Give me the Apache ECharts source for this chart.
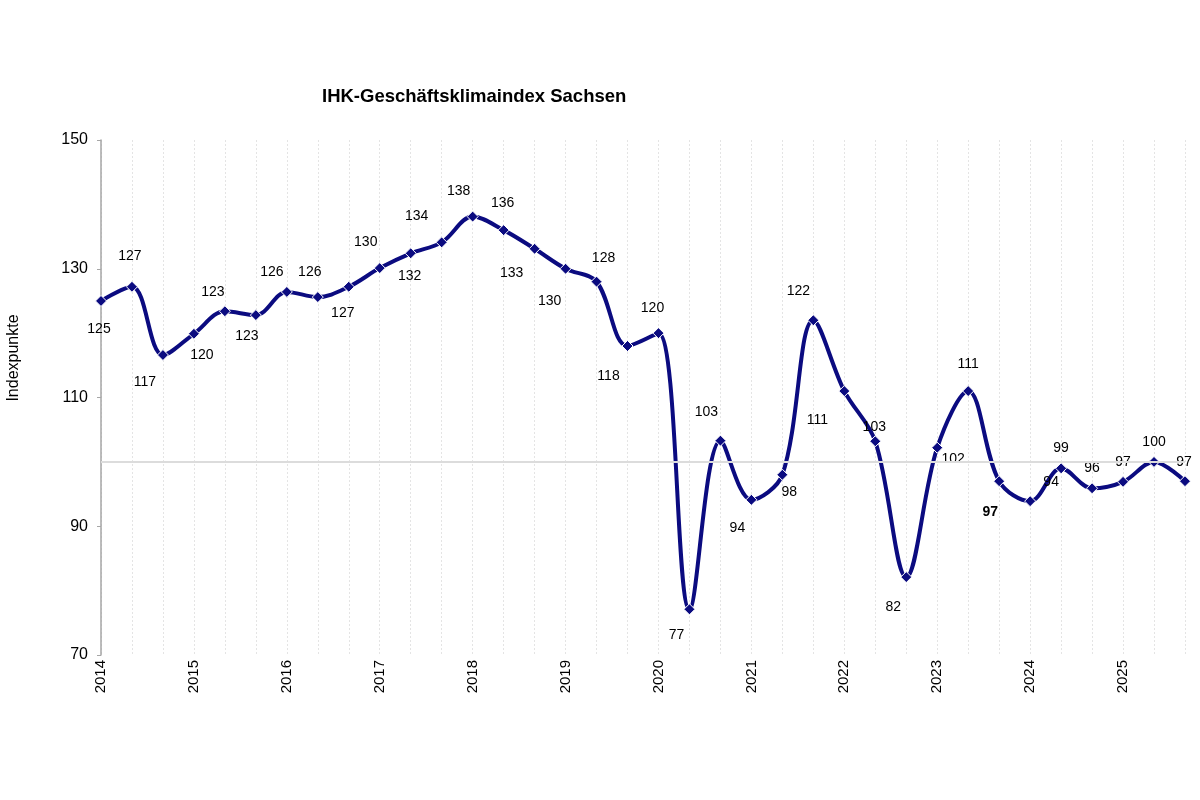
<!DOCTYPE html>
<html>
<head>
<meta charset="utf-8">
<script src="https://cdn.jsdelivr.net/npm/echarts@6/dist/echarts.min.js"></script>
<style>html,body{margin:0;padding:0;background:#fff}#c{width:1200px;height:800px}</style>
</head>
<body>
<div id="c"></div>
<script>
// ---- data ----
const years = ['2014','2015','2016','2017','2018','2019','2020','2021','2022','2023','2024','2025'];
const waves = ['I','II','III'];
const categories = [];
years.forEach(y => waves.forEach(w => categories.push(y + ' ' + w)));
const values = [
  125, 127.2, 116.6, 119.9, 123.4, 122.8, 126.4, 125.6, 127.2, 130.1, 132.4, 134.1,
  138.1, 136, 133.1, 130, 128, 118, 120, 77.1, 103.3, 94.1, 98, 122,
  111, 103.2, 82.1, 102.2, 111, 97, 93.9, 99, 95.9, 96.9, 100, 97
];
const referenceValue = 100;
const titleText = 'IHK-Geschäftsklimaindex Sachsen';
const yName = 'Indexpunkte';

// ---- label placement (styling) ----
const labelOffsets = [
  [-2,28],[-2,-31],[-18,27],[8,21],[-12,-19],[-9,21],[-15,-20],[-8,-25],[-6,26],[-14,-26],[-1,23],[-25,-26],
  [-14,-25],[-1,-27],[-23,24],[-16,32],[7,-23],[-19,30],[-6,-25],[-13,26],[-14,-28],[-14,28],[7,17],[-15,-29],
  [-27,29],[-1,-14],[-13,30],[16,11],[0,-27],[-9,31],[21,-19],[0,-20],[0,-20],[0,-20],[0,-20],[-1,-19]
];
const boldLabelIndex = [29];
const FONT = 'Liberation Sans, Arial, sans-serif';

const seriesData = values.map((v, i) => ({
  value: v,
  label: {
    offset: labelOffsets[i],
    fontWeight: boldLabelIndex.includes(i) ? 'bold' : 'normal'
  }
}));

const chart = echarts.init(document.getElementById('c'), null, {renderer: 'canvas'});
chart.setOption({
  animation: false,
  backgroundColor: '#ffffff',
  title: {
    text: titleText,
    left: 317,
    top: 82,
    textStyle: {fontFamily: FONT, fontSize: 18.5, fontWeight: 'bold', color: '#000'}
  },
  graphic: [{
    type: 'text',
    x: 14,
    y: 358,
    rotation: Math.PI / 2,
    style: {text: yName, font: '16px ' + FONT, fill: '#000', align: 'center', verticalAlign: 'middle'}
  }],
  grid: {left: 101, right: 15, top: 140, bottom: 145, containLabel: false},
  xAxis: {
    type: 'category',
    data: categories,
    boundaryGap: false,
    axisLine: {show: false},
    axisTick: {show: false},
    axisLabel: {
      interval: 0,
      rotate: 90,
      margin: 5,
      fontFamily: FONT,
      fontSize: 15,
      color: '#000',
      formatter: (val, idx) => idx % 3 === 0 ? val.split(' ')[0] : ''
    },
    splitLine: {show: true, interval: 0, lineStyle: {color: '#e4e4e4', width: 1, type: [2, 2]}}
  },
  yAxis: {
    type: 'value',
    min: 70,
    max: 150,
    interval: 20,
    axisLine: {show: true, lineStyle: {color: '#a6a6a6', width: 1.5}},
    axisTick: {show: true, length: 4, lineStyle: {color: '#a6a6a6'}},
    axisLabel: {margin: 13, fontFamily: FONT, fontSize: 16, color: '#000'},
    splitLine: {show: false}
  },
  series: [{
    type: 'line',
    data: seriesData,
    smooth: 0.35,
    symbol: 'diamond',
    symbolSize: 11,
    lineStyle: {color: '#0b0b80', width: 4},
    itemStyle: {color: '#0b0b80', borderColor: '#ffffff', borderWidth: 1},
    label: {
      show: true,
      position: 'inside',
      fontFamily: FONT,
      fontSize: 14,
      color: '#000',
      formatter: p => Math.round(p.value)
    },
    markLine: {
      silent: true,
      symbol: 'none',
      label: {show: false},
      lineStyle: {color: '#dcdcdc', width: 2, type: 'solid'},
      data: [{yAxis: referenceValue}]
    },
    z: 3
  }]
});
</script>
</body>
</html>
